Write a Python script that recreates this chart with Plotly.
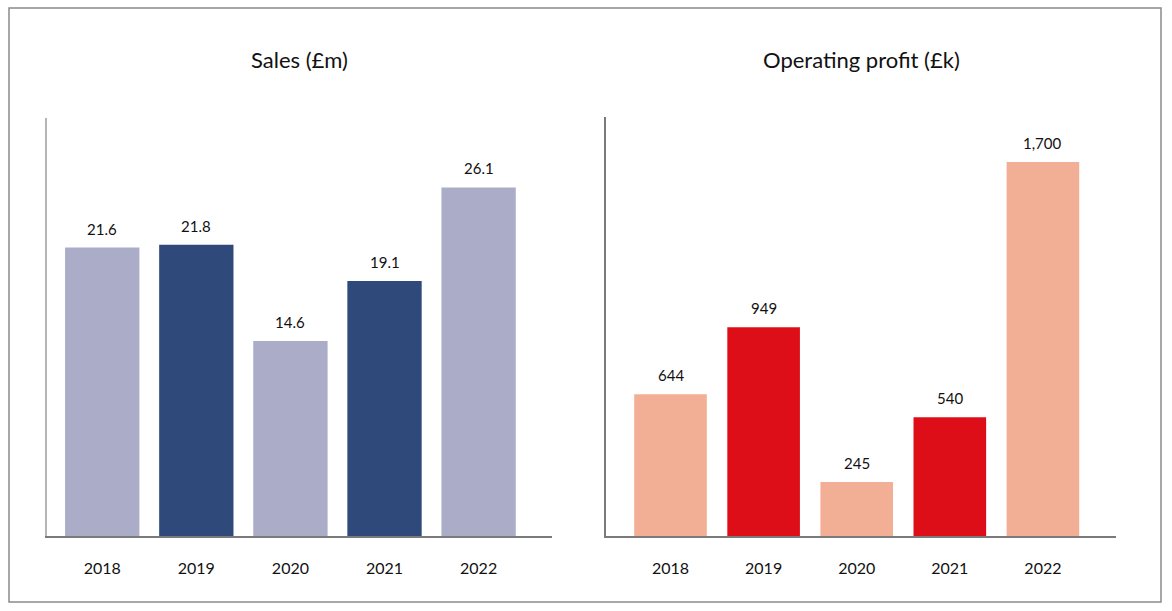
import plotly.graph_objects as go

years = ["2018", "2019", "2020", "2021", "2022"]
sales = [21.6, 21.8, 14.6, 19.1, 26.1]
profit = [644, 949, 245, 540, 1700]
sales_colors = ["#ABADC8", "#2F4A7A", "#ABADC8", "#2F4A7A", "#ABADC8"]
profit_colors = ["#F3AF96", "#DE0E18", "#F3AF96", "#DE0E18", "#F3AF96"]
titles = ["Sales (£m)", "Operating profit (£k)"]

W, H = 1172, 611
FONT = "Lato"

def px_x(p):
    return p / W

def px_y(p):
    return 1 - p / H

fig = go.Figure()
fig.add_trace(go.Bar(x=years, y=sales, marker=dict(color=sales_colors, line=dict(width=0)),
                     width=0.79, xaxis="x", yaxis="y", hoverinfo="x+y"))
fig.add_trace(go.Bar(x=years, y=profit, marker=dict(color=profit_colors, line=dict(width=0)),
                     width=0.78, xaxis="x2", yaxis="y2", hoverinfo="x+y"))

annotations = []
for i, v in enumerate(sales):
    annotations.append(dict(x=i, y=v, xref="x", yref="y", text=f"{v}", showarrow=False,
                            xanchor="center", yanchor="bottom", yshift=8,
                            font=dict(family=FONT, size=15, color="#111")))
for i, v in enumerate(profit):
    annotations.append(dict(x=i, y=v, xref="x2", yref="y2", text=f"{v:,}", showarrow=False,
                            xanchor="center", yanchor="bottom", yshift=8,
                            font=dict(family=FONT, size=15, color="#111")))
annotations.append(dict(x=px_x(299), y=px_y(60), xref="paper", yref="paper", text=titles[0],
                        xanchor="center", yanchor="middle",
                        showarrow=False, font=dict(family=FONT, size=22, color="#111")))
annotations.append(dict(x=px_x(862), y=px_y(60), xref="paper", yref="paper", text=titles[1],
                        xanchor="center", yanchor="middle",
                        showarrow=False, font=dict(family=FONT, size=22, color="#111")))

xcommon = dict(type="category", showgrid=False, zeroline=False, showline=True, linecolor="#7a7a7a",
               linewidth=1.5, ticks="", tickfont=dict(family=FONT, size=16, color="#111"),
               ticklabelstandoff=17, fixedrange=True)
ycommon = dict(showgrid=False, zeroline=False, showline=True, linewidth=1.5, showticklabels=False,
               ticks="", fixedrange=True)

fig.update_layout(
    width=W, height=H,
    margin=dict(l=0, r=0, t=0, b=0),
    paper_bgcolor="white", plot_bgcolor="white",
    showlegend=False,
    bargap=0.2,
    xaxis=dict(domain=[px_x(47), px_x(552)], range=[-0.587, 4.78], anchor="y", **xcommon),
    yaxis=dict(domain=[px_y(536), px_y(118)], range=[0, 31.3], anchor="x", linecolor="#b5b5b5", **ycommon),
    xaxis2=dict(domain=[px_x(606), px_x(1116)], range=[-0.693, 4.785], anchor="y2", **xcommon),
    yaxis2=dict(domain=[px_y(536), px_y(117)], range=[0, 1905], anchor="x2", linecolor="#7a7a7a", **ycommon),
    annotations=annotations,
    shapes=[dict(type="rect", xref="paper", yref="paper", x0=px_x(9), x1=px_x(1161),
                 y0=px_y(602), y1=px_y(8), line=dict(color="#8a8a8a", width=1.5))],
)

fig.write_html("out.html")
